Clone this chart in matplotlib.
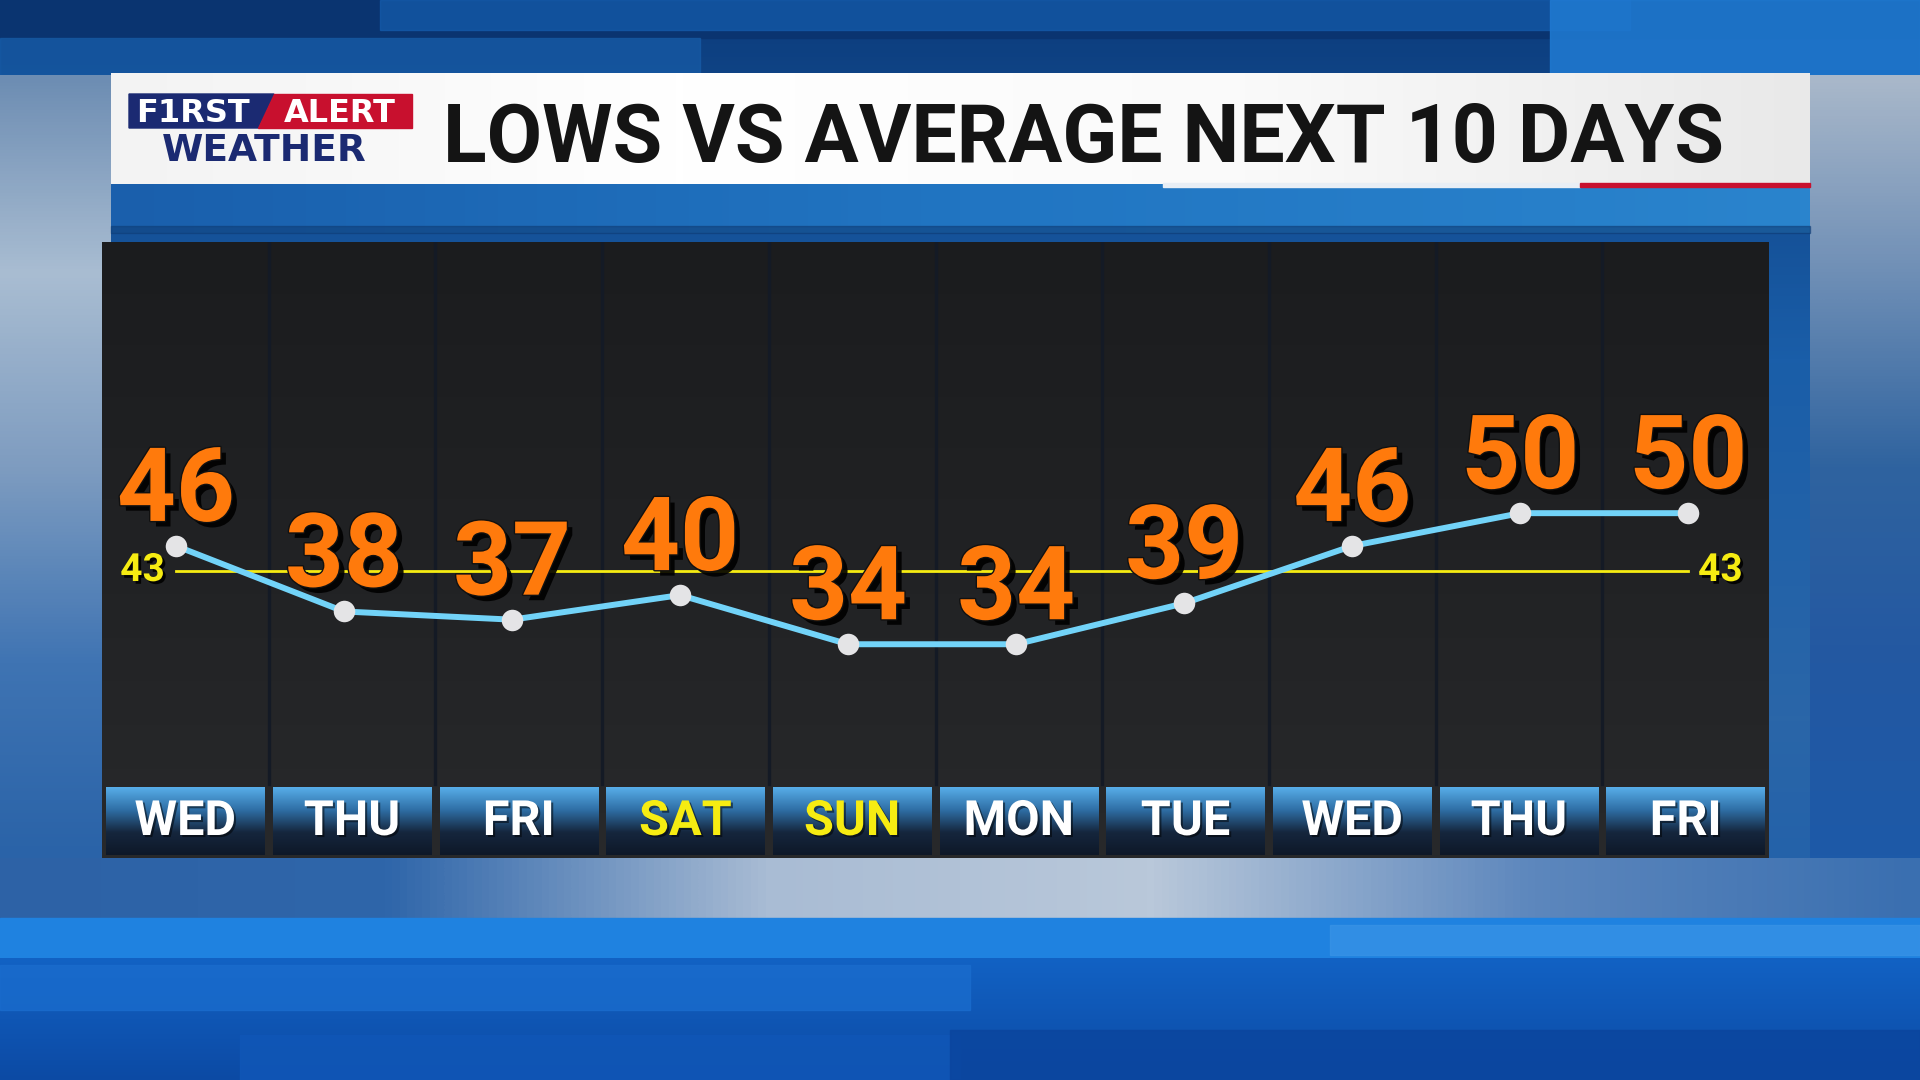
import numpy as np
import matplotlib.pyplot as plt
import matplotlib.patheffects as pe
from matplotlib.patches import Rectangle, Polygon
from matplotlib.colors import LinearSegmentedColormap

# ---- data ----
days = ['WED', 'THU', 'FRI', 'SAT', 'SUN', 'MON', 'TUE', 'WED', 'THU', 'FRI']
lows = [46, 38, 37, 40, 34, 34, 39, 46, 50, 50]
average_low = 43
weekend = ['SAT', 'SUN']
title = 'LOWS VS AVERAGE NEXT 10 DAYS'

# ---- style ----
NARROW = ['Roboto', 'DejaVu Sans']
NUM_FONT = ['Roboto', 'DejaVu Sans']
ORANGE = '#ff7a0c'
LINE_BLUE = '#72d3f8'
YELLOW = '#f6ec12'
NAVY = '#1b2a72'
RED = '#c8102e'

W, H = 1920, 1080
fig = plt.figure(figsize=(W / 100, H / 100), dpi=100)


def px_axes(x0, y0, x1, y1):
    """axes placed by a pixel box measured from the top-left corner"""
    a = fig.add_axes([x0 / W, 1 - y1 / H, (x1 - x0) / W, (y1 - y0) / H])
    a.axis('off')
    a.patch.set_alpha(0)
    return a


def grad(a, x0, y0, x1, y1, colors, vertical=True, z=0, alpha=1.0):
    cmap = LinearSegmentedColormap.from_list('g', colors)
    arr = np.linspace(0, 1, 256)
    arr = arr[:, None] if vertical else arr[None, :]
    a.imshow(arr, cmap=cmap, extent=(x0, x1, y1, y0), aspect='auto',
             zorder=z, alpha=alpha, interpolation='bicubic')


# ---- background (pixel coordinates) ----
bg = px_axes(0, 0, W, H)
grad(bg, 0, 0, W, H, ['#0c3c7c', '#1a5ea9', '#2a66a8', '#1b5cad'])
# top streaks
bg.add_patch(Rectangle((0, 0), W, 38, color='#0a3470', zorder=1))
bg.add_patch(Rectangle((380, 0), 1250, 30, color='#1459a8', alpha=0.8, zorder=1))
bg.add_patch(Rectangle((1550, 0), 370, 75, color='#1f78cf', alpha=0.9, zorder=1))
bg.add_patch(Rectangle((0, 38), 700, 37, color='#175ca8', alpha=0.7, zorder=1))
# cloudy sides
grad(bg, 0, 75, 111, 860, ['#6d8db3', '#a9bdd2', '#7e9cc0', '#3f74b3', '#2a63a8'], z=1)
grad(bg, 1810, 75, W, 860, ['#a9b8ca', '#6f8fb6', '#2f639f', '#2358a2', '#1d5aa8'], z=1)
# bottom bands
grad(bg, 0, 858, W, 925, ['#2d62a6', '#2f66aa', '#a9bcd4', '#b9c8da', '#5d87bd', '#3a6fb0'],
     vertical=False, z=1)
bg.add_patch(Rectangle((0, 918), W, 40, color='#1f82e0', zorder=2))
grad(bg, 0, 958, W, H, ['#1262c4', '#0c4aa4'], z=2)
bg.add_patch(Rectangle((0, 965), 970, 45, color='#1a6ccd', alpha=0.8, zorder=3))
bg.add_patch(Rectangle((240, 1035), 720, 45, color='#1056b6', alpha=0.9, zorder=3))
bg.add_patch(Rectangle((1330, 925), 590, 30, color='#3a94e6', alpha=0.7, zorder=3))
bg.add_patch(Rectangle((950, 1030), 970, 50, color='#0b469f', alpha=0.9, zorder=3))

# ---- title banner ----
grad(bg, 111, 73, 1810, 184, ['#f3f3f3', '#ffffff', '#fafafa', '#e9e9e9'], vertical=False, z=4)
grad(bg, 111, 184, 1810, 233, ['#1a5fac', '#2175c2', '#2a84cd'], vertical=False, z=4)
bg.add_patch(Rectangle((111, 226), 1699, 7, color='#0f3e78', alpha=0.6, zorder=5))
bg.add_patch(Rectangle((1163, 183), 417, 4, color='#e8eef5', zorder=5))
bg.add_patch(Rectangle((1580, 183), 230, 4, color=RED, zorder=5))

# logo
bg.add_patch(Polygon([(129, 94), (274, 94), (258, 128), (129, 128)], color=NAVY, zorder=6))
bg.add_patch(Polygon([(274, 94), (412, 94), (412, 128), (258, 128)], color=RED, zorder=6))
bg.text(193, 122, 'F1RST', color='white', fontsize=23, fontweight='heavy',
        family='DejaVu Sans', ha='center', va='baseline', zorder=7)
bg.text(340, 122, 'ALERT', color='white', fontsize=23, fontweight='heavy',
        family='DejaVu Sans', ha='center', va='baseline', zorder=7)
bg.text(264, 161, 'WEATHER', color=NAVY, fontsize=27, fontweight='heavy',
        family='DejaVu Sans', ha='center', va='baseline', zorder=7)

bg.text(443, 162, title, color='#141414', fontsize=58, fontweight='bold',
        family=NARROW, ha='left', va='baseline', zorder=7)
bg.set_xlim(0, W)
bg.set_ylim(H, 0)

# ---- panel and day cells (columns -0.5..9.5, pixel y) ----
pax = px_axes(102, 242, 1769, 858)
grad(pax, -0.5, 242, 9.5, 858, ['#1b1c1e', '#212224', '#28292b'], z=0)
for i in range(len(days) - 1):
    pax.plot([i + 0.5, i + 0.5], [242, 784], color='#141a25', lw=2.4, zorder=1)
for i, d in enumerate(days):
    grad(pax, i - 0.475, 787, i + 0.475, 855, ['#58aeea', '#2f6fa6', '#15263d', '#0e1828'], z=2)
    pax.text(i, 822, d, color=YELLOW if d in weekend else 'white', fontsize=35,
             fontweight='bold', family=NARROW, ha='center', va='center', zorder=3,
             path_effects=[pe.withSimplePatchShadow(offset=(1.5, -1.5), shadow_rgbFace='k', alpha=0.5)])
pax.set_xlim(-0.5, 9.5)
pax.set_ylim(858, 242)

# ---- lows vs average ----
ax = px_axes(102, 242, 1769, 784)
x = np.arange(len(lows))
ax.plot([x[0], x[-1]], [average_low, average_low], color=YELLOW, lw=2.0, zorder=2)
ax.plot(x, lows, color=LINE_BLUE, lw=4.3, zorder=3, solid_capstyle='round')
ax.plot(x, lows, 'o', ms=15.5, color='#e4e4e6', mec='none', zorder=4)

shadow = [pe.SimplePatchShadow(offset=(4, -4), shadow_rgbFace='black', alpha=0.9),
          pe.Stroke(linewidth=2, foreground='#111111'), pe.Normal()]
for xi, v in zip(x, lows):
    ax.annotate(str(v), (xi, v), xytext=(0, 18), textcoords='offset points',
                ha='center', va='baseline', color=ORANGE, fontsize=74,
                fontweight='bold', family=NUM_FONT, zorder=5, path_effects=shadow)

small_shadow = [pe.SimplePatchShadow(offset=(2, -2), shadow_rgbFace='black', alpha=0.9), pe.Normal()]
ax.annotate(str(average_low), (x[0], average_low), xytext=(-8, 0), textcoords='offset points',
            ha='right', va='center', color=YELLOW, fontsize=28, fontweight='bold',
            family=NUM_FONT, zorder=5, path_effects=small_shadow)
ax.annotate(str(average_low), (x[-1], average_low), xytext=(7, 0), textcoords='offset points',
            ha='left', va='center', color=YELLOW, fontsize=28, fontweight='bold',
            family=NUM_FONT, zorder=5, path_effects=small_shadow)
ax.set_xlim(-0.44, 9.48)
ax.set_ylim(16.94, 83.1)

fig.savefig('out.png', dpi=100)
